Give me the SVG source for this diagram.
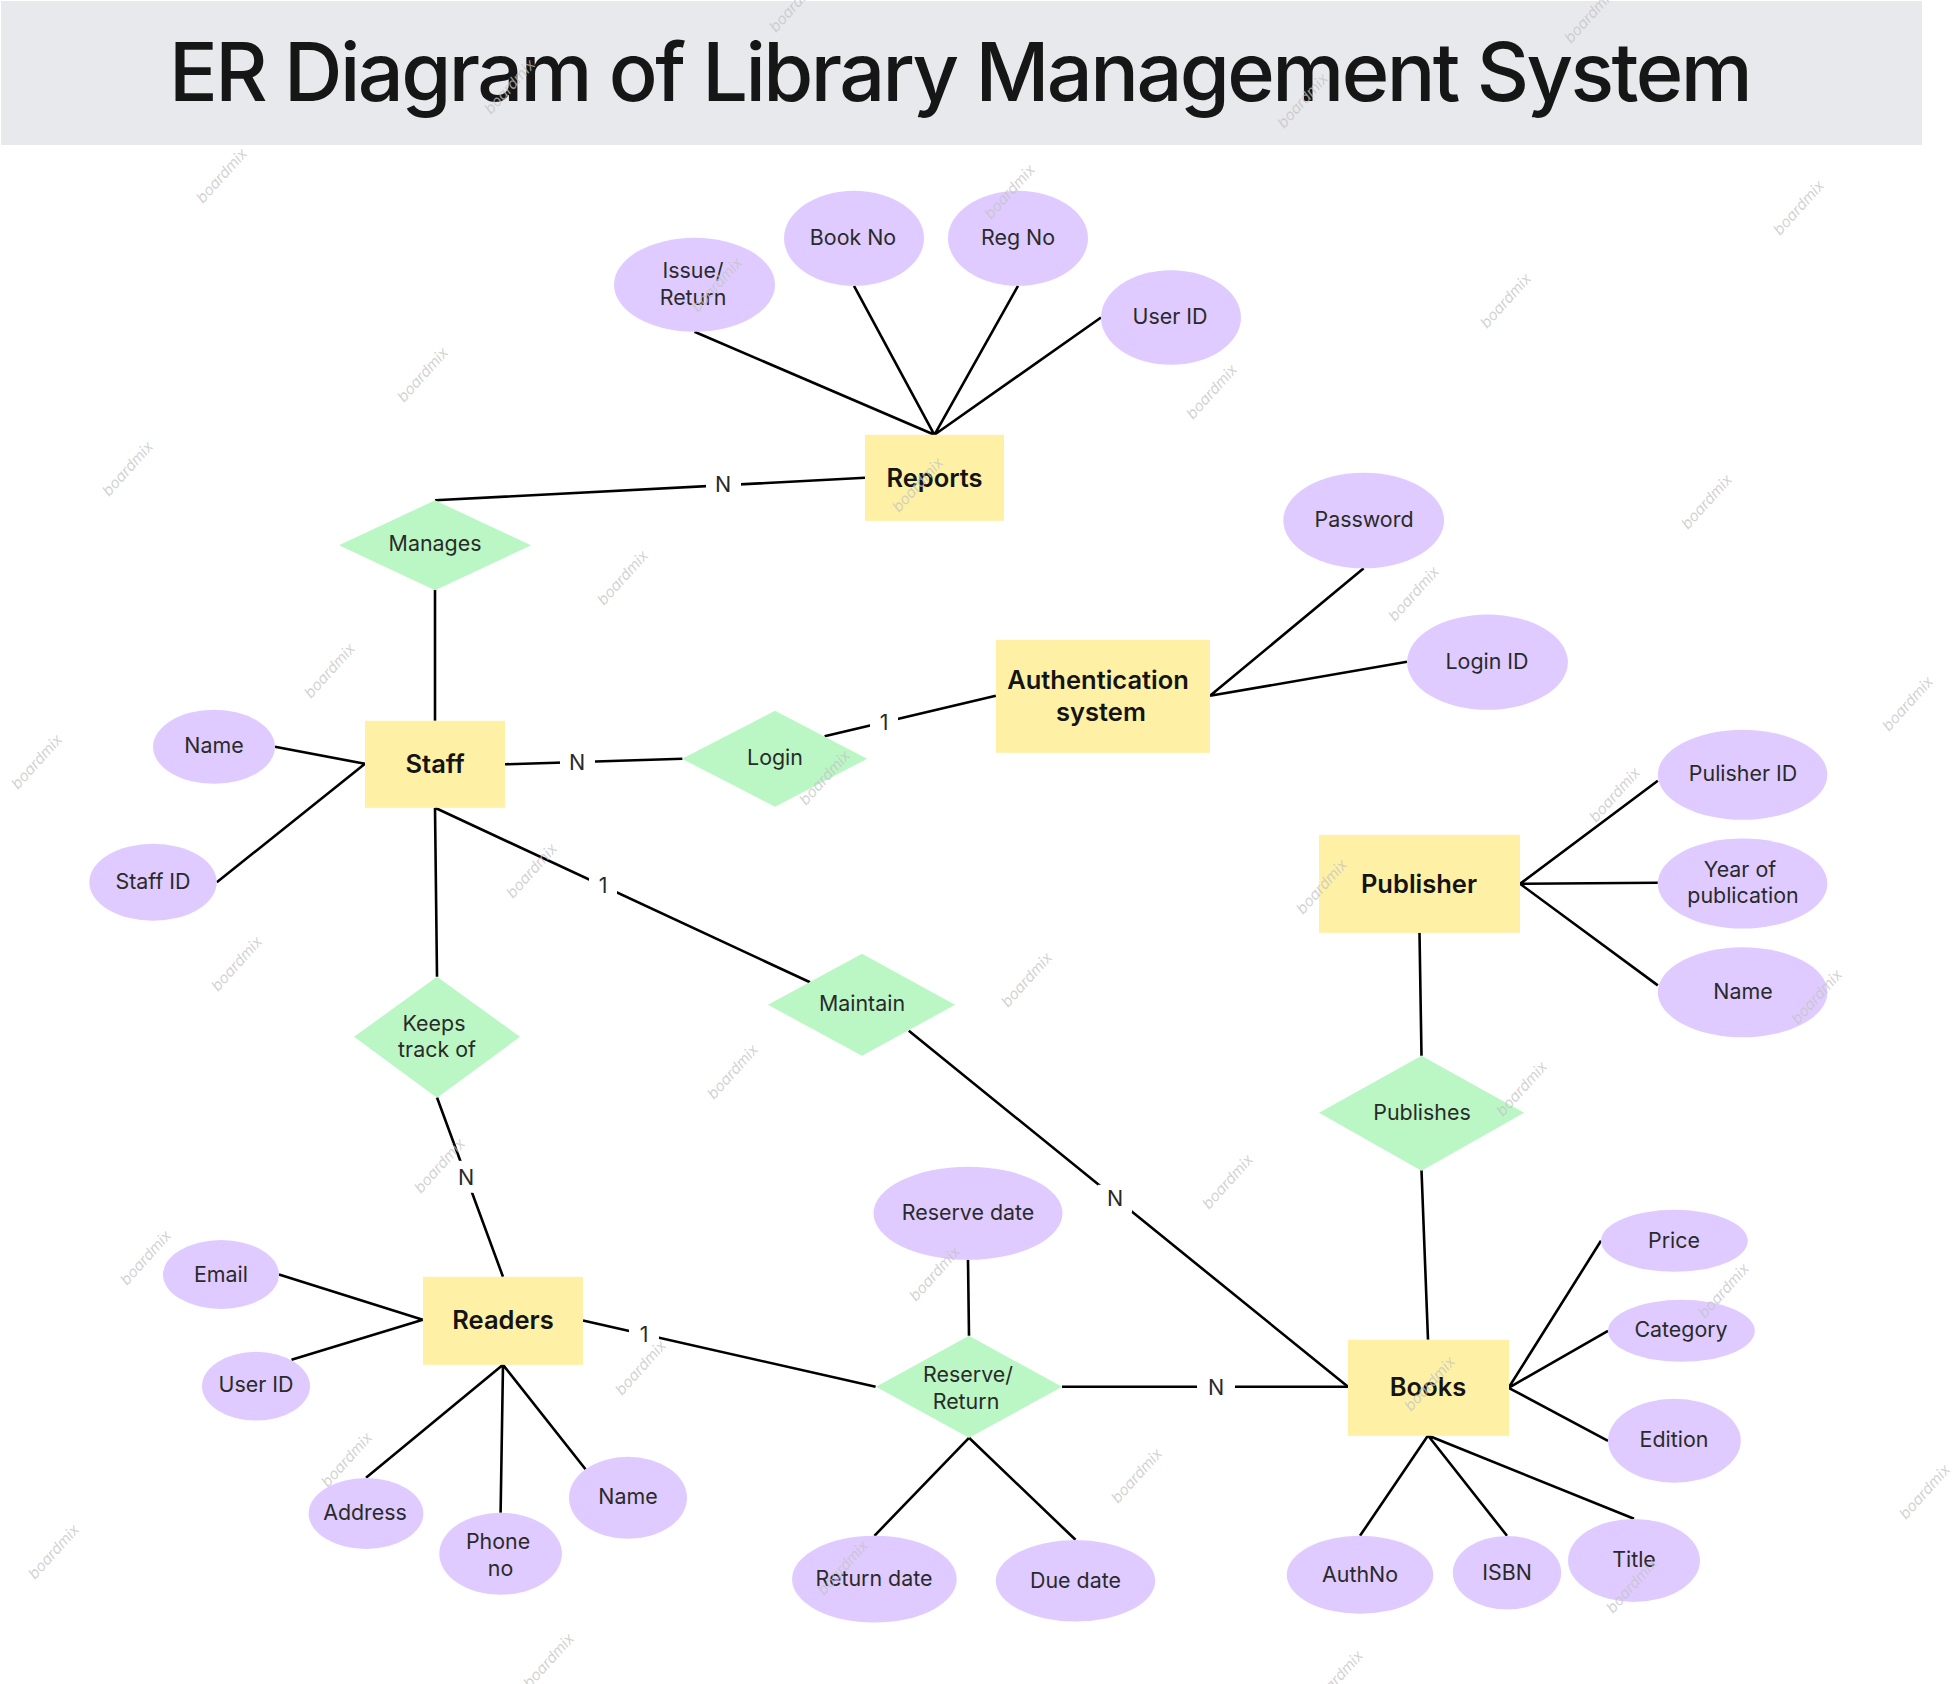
<svg xmlns="http://www.w3.org/2000/svg" width="1955" height="1684" viewBox="0 0 1955 1684">
<style>
text{font-family:Inter,"Noto Sans","Liberation Sans",sans-serif;fill:#2a2a2a;text-anchor:middle}
.a{fill:#dfcbff}.e{fill:#fef1a5}.r{fill:#baf7c4}
.h{font-size:81px;font-weight:550;letter-spacing:-2.6px;fill:#161616}
.t{font-size:21.4px}.b{font-size:25.5px;font-weight:600;fill:#141414}
.l{stroke:#000;stroke-width:2.6;fill:none}
.c{font-size:21.5px;fill:#111}
.w{font-size:15px;font-style:italic;fill:#c4c4c4;fill-opacity:.75}
</style>
<rect width="1955" height="1684" fill="#fff"/>
<g id="title"><rect x="1" y="1" width="1921" height="144" fill="#e8e9ed"/><text class="h" x="959.5" y="101">ER Diagram of Library Management System</text></g>
<g id="diagram" transform="translate(0,0.8)">
<g id="connectors" class="l">
<path d="M694.5 331L934.4 434M854 285L934.4 434M1018 285L934.4 434M1101 316.7L934.4 434"/>
<path d="M435 499.5L865 477M435 589L435 720M275 746L365 763M216.8 881.5L365 763M505 763.5L682.4 758M824.6 735.5L995.8 695"/>
<path d="M1210 695L1363.7 567.5M1210 695L1407 661M435 807L437 976M435 807L810 981.5M437 1096.7L503 1276M908.8 1030L1348 1386"/>
<path d="M583 1319.6L875.6 1386M1062 1386L1348 1386M968 1259L969 1335M969 1437L874.4 1535M969 1437L1075.5 1539"/>
<path d="M279 1273.7L422.8 1319M291.5 1359L422.8 1319M503 1364L366 1477M503 1364L500.6 1512M503 1364L585.5 1468.5"/>
<path d="M1520 883L1657.8 780M1520 883L1657.8 882M1520 883L1657.8 984.6M1419.5 932L1421.5 1055M1421.5 1169.5L1428 1339"/>
<path d="M1508.6 1387L1601 1240M1508.6 1387L1608 1330M1508.6 1387L1608 1440M1428 1434.7L1360 1535M1428 1434.7L1507 1535M1428 1434.7L1634 1518"/>
</g>
<g id="connector-labels" class="c">
<g><rect x="706" y="470" width="35" height="28" fill="#fff"/><text x="723" y="491">N</text></g>
<g><rect x="560" y="748" width="35" height="28" fill="#fff"/><text x="577" y="769">N</text></g>
<g><rect x="870" y="708" width="28" height="28" fill="#fff"/><text x="884" y="729">1</text></g>
<g><rect x="589" y="870" width="28" height="28" fill="#fff"/><text x="603" y="892">1</text></g>
<g><rect x="449" y="1160" width="34" height="32" fill="#fff"/><text x="466" y="1184">N</text></g>
<g><rect x="1098" y="1184" width="34" height="28" fill="#fff"/><text x="1115" y="1205">N</text></g>
<g><rect x="629" y="1320" width="30" height="28" fill="#fff"/><text x="644" y="1341">1</text></g>
<g><rect x="1197" y="1372" width="38" height="28" fill="#fff"/><text x="1216" y="1394">N</text></g>
</g>
<g id="reports"><rect class="e" x="865" y="434" width="139" height="86"/><text class="b" x="934.5" y="486">Reports</text></g>
<g id="staff"><rect class="e" x="365" y="720" width="140" height="87"/><text class="b" x="435" y="772">Staff</text></g>
<g id="authentication"><rect class="e" x="996" y="639" width="214" height="113"/><text class="b" x="1098" y="688">Authentication</text><text class="b" x="1101" y="720">system</text></g>
<g id="publisher"><rect class="e" x="1319" y="834" width="201" height="98"/><text class="b" x="1419" y="892">Publisher</text></g>
<g id="readers"><rect class="e" x="423" y="1276" width="160" height="88"/><text class="b" x="503" y="1328">Readers</text></g>
<g id="books"><rect class="e" x="1348" y="1339" width="161" height="96"/><text class="b" x="1428" y="1395">Books</text></g>
<g id="manages"><polygon class="r" points="435,499.5 531,544.5 435,589.5 339,544.5"/><text class="t" x="435" y="550">Manages</text></g>
<g id="login"><polygon class="r" points="775,710 867,758 775,806 682,758"/><text class="t" x="775" y="764">Login</text></g>
<g id="keeps"><polygon class="r" points="437,976 520,1036 437,1097 354,1036"/><text class="t" x="434" y="1030">Keeps</text><text class="t" x="437" y="1056">track of</text></g>
<g id="maintain"><polygon class="r" points="862,953 955,1004 862,1055 768,1004"/><text class="t" x="862" y="1010">Maintain</text></g>
<g id="publishes"><polygon class="r" points="1421.5,1055 1524,1112 1421.5,1170 1319,1112"/><text class="t" x="1422" y="1119">Publishes</text></g>
<g id="reserve-return"><polygon class="r" points="969,1335 1062,1386 969,1437 876,1386"/><text class="t" x="968" y="1381">Reserve/</text><text class="t" x="966" y="1408">Return</text></g>
<g id="attr-issue"><ellipse class="a" cx="694.5" cy="284" rx="80.5" ry="47"/><text class="t" x="693" y="277">Issue/</text><text class="t" x="693" y="304">Return</text></g>
<g id="attr-bookno"><ellipse class="a" cx="854" cy="237.5" rx="70" ry="47.5"/><text class="t" x="853" y="244">Book No</text></g>
<g id="attr-regno"><ellipse class="a" cx="1018" cy="237.5" rx="70" ry="47.5"/><text class="t" x="1018" y="244">Reg No</text></g>
<g id="attr-userid1"><ellipse class="a" cx="1171" cy="316.7" rx="70" ry="47.3"/><text class="t" x="1170" y="323">User ID</text></g>
<g id="attr-password"><ellipse class="a" cx="1363.7" cy="519.7" rx="80.4" ry="47.8"/><text class="t" x="1364" y="526">Password</text></g>
<g id="attr-loginid"><ellipse class="a" cx="1487.5" cy="661.4" rx="80.4" ry="47.6"/><text class="t" x="1487" y="668">Login ID</text></g>
<g id="attr-name1"><ellipse class="a" cx="214" cy="746" rx="61" ry="37"/><text class="t" x="214" y="752">Name</text></g>
<g id="attr-staffid"><ellipse class="a" cx="153" cy="881.5" rx="63.7" ry="38.5"/><text class="t" x="153" y="888">Staff ID</text></g>
<g id="attr-pubid"><ellipse class="a" cx="1742.6" cy="774" rx="84.8" ry="45"/><text class="t" x="1743" y="780">Pulisher ID</text></g>
<g id="attr-year"><ellipse class="a" cx="1742.6" cy="882.7" rx="84.8" ry="45"/><text class="t" x="1740" y="876">Year of</text><text class="t" x="1743" y="902">publication</text></g>
<g id="attr-name2"><ellipse class="a" cx="1742.6" cy="991.5" rx="84.8" ry="45"/><text class="t" x="1743" y="998">Name</text></g>
<g id="attr-email"><ellipse class="a" cx="221" cy="1273.7" rx="58" ry="34.4"/><text class="t" x="221" y="1281">Email</text></g>
<g id="attr-userid2"><ellipse class="a" cx="256" cy="1385.4" rx="54" ry="34.4"/><text class="t" x="256" y="1391">User ID</text></g>
<g id="attr-address"><ellipse class="a" cx="366" cy="1512.7" rx="57.4" ry="35.5"/><text class="t" x="365" y="1519">Address</text></g>
<g id="attr-phone"><ellipse class="a" cx="500.6" cy="1553" rx="61.3" ry="41"/><text class="t" x="498" y="1548">Phone</text><text class="t" x="500.6" y="1575">no</text></g>
<g id="attr-name3"><ellipse class="a" cx="628" cy="1497" rx="59" ry="41"/><text class="t" x="628" y="1503">Name</text></g>
<g id="attr-reservedate"><ellipse class="a" cx="968" cy="1212.5" rx="94.5" ry="46.5"/><text class="t" x="968" y="1219">Reserve date</text></g>
<g id="attr-returndate"><ellipse class="a" cx="874.4" cy="1578.4" rx="82.3" ry="43.4"/><text class="t" x="874" y="1585">Return date</text></g>
<g id="attr-duedate"><ellipse class="a" cx="1075.5" cy="1580" rx="79.7" ry="40.7"/><text class="t" x="1075.5" y="1587">Due date</text></g>
<g id="attr-price"><ellipse class="a" cx="1674.4" cy="1240" rx="73.4" ry="31"/><text class="t" x="1674" y="1247">Price</text></g>
<g id="attr-category"><ellipse class="a" cx="1681.4" cy="1330" rx="73.4" ry="31"/><text class="t" x="1681" y="1336">Category</text></g>
<g id="attr-edition"><ellipse class="a" cx="1674.4" cy="1440" rx="66.4" ry="42"/><text class="t" x="1674" y="1446">Edition</text></g>
<g id="attr-authno"><ellipse class="a" cx="1360" cy="1574" rx="73.3" ry="39"/><text class="t" x="1360" y="1581">AuthNo</text></g>
<g id="attr-isbn"><ellipse class="a" cx="1507" cy="1572" rx="54.2" ry="36.8"/><text class="t" x="1507" y="1579">ISBN</text></g>
<g id="attr-title"><ellipse class="a" cx="1634" cy="1559.6" rx="66" ry="41.5"/><text class="t" x="1634" y="1566">Title</text></g>
</g>
<g id="watermarks" class="w" transform="translate(3.5,4)">
<text class="w" transform="translate(222,175) rotate(-48)">boardmix</text>
<text class="w" transform="translate(1010,191) rotate(-48)">boardmix</text>
<text class="w" transform="translate(1799,207) rotate(-48)">boardmix</text>
<text class="w" transform="translate(1506,300) rotate(-48)">boardmix</text>
<text class="w" transform="translate(717,284) rotate(-48)">boardmix</text>
<text class="w" transform="translate(423,374) rotate(-48)">boardmix</text>
<text class="w" transform="translate(1212,391) rotate(-48)">boardmix</text>
<text class="w" transform="translate(128,468) rotate(-48)">boardmix</text>
<text class="w" transform="translate(918,484) rotate(-48)">boardmix</text>
<text class="w" transform="translate(1707,501) rotate(-48)">boardmix</text>
<text class="w" transform="translate(623,577) rotate(-48)">boardmix</text>
<text class="w" transform="translate(1414,593) rotate(-48)">boardmix</text>
<text class="w" transform="translate(330,670) rotate(-48)">boardmix</text>
<text class="w" transform="translate(1908,703) rotate(-48)">boardmix</text>
<text class="w" transform="translate(37,761) rotate(-48)">boardmix</text>
<text class="w" transform="translate(825,777) rotate(-48)">boardmix</text>
<text class="w" transform="translate(1615,794) rotate(-48)">boardmix</text>
<text class="w" transform="translate(532,870) rotate(-48)">boardmix</text>
<text class="w" transform="translate(1322,886) rotate(-48)">boardmix</text>
<text class="w" transform="translate(237,963) rotate(-48)">boardmix</text>
<text class="w" transform="translate(1027,979) rotate(-48)">boardmix</text>
<text class="w" transform="translate(1817,996) rotate(-48)">boardmix</text>
<text class="w" transform="translate(733,1071) rotate(-48)">boardmix</text>
<text class="w" transform="translate(1522,1088) rotate(-48)">boardmix</text>
<text class="w" transform="translate(440,1165) rotate(-48)">boardmix</text>
<text class="w" transform="translate(1228,1181) rotate(-48)">boardmix</text>
<text class="w" transform="translate(146,1257) rotate(-48)">boardmix</text>
<text class="w" transform="translate(935,1273) rotate(-48)">boardmix</text>
<text class="w" transform="translate(1724,1290) rotate(-48)">boardmix</text>
<text class="w" transform="translate(641,1367) rotate(-48)">boardmix</text>
<text class="w" transform="translate(1430,1383) rotate(-48)">boardmix</text>
<text class="w" transform="translate(347,1459) rotate(-48)">boardmix</text>
<text class="w" transform="translate(1137,1475) rotate(-48)">boardmix</text>
<text class="w" transform="translate(1925,1491) rotate(-48)">boardmix</text>
<text class="w" transform="translate(54,1551) rotate(-48)">boardmix</text>
<text class="w" transform="translate(843,1567) rotate(-48)">boardmix</text>
<text class="w" transform="translate(1632,1585) rotate(-48)">boardmix</text>
<text class="w" transform="translate(549,1660) rotate(-48)">boardmix</text>
<text class="w" transform="translate(1338,1677) rotate(-48)">boardmix</text>
<text class="w" transform="translate(510,86) rotate(-48)">boardmix</text>
<text class="w" transform="translate(1303,100) rotate(-48)">boardmix</text>
<text class="w" transform="translate(795,4) rotate(-48)">boardmix</text>
<text class="w" transform="translate(1590,15) rotate(-48)">boardmix</text>
</g>
</svg>
